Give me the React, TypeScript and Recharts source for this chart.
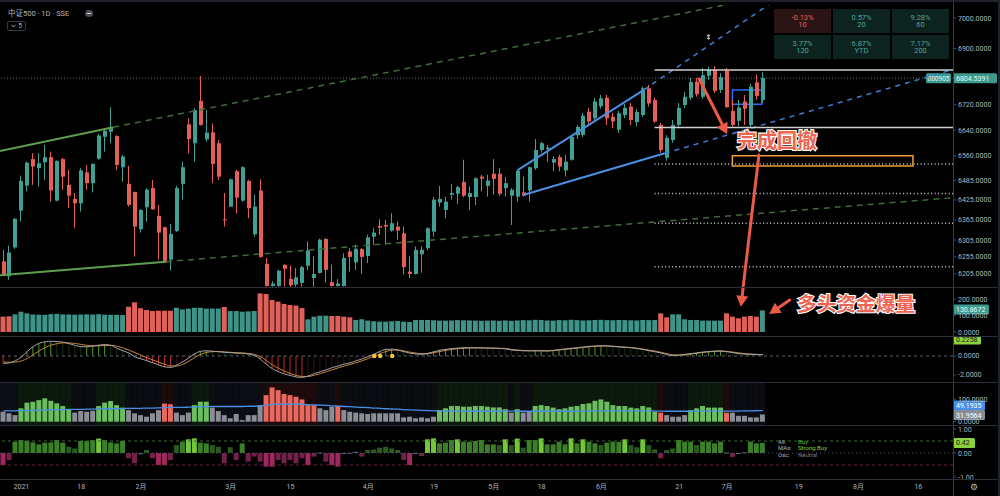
import React from 'react'
import {
  ComposedChart, Bar, Cell, Line, XAxis, YAxis, ReferenceLine, ReferenceArea, ReferenceDot,
} from 'recharts'

const FONT = 'Roboto, "Noto Sans CJK SC", sans-serif'
const CJK = '"Noto Sans CJK SC", "Noto Sans CJK TC", sans-serif'
const TXT = '#b2b5be'
const UP = '#41a093'
const DOWN = '#e35f58'
const GRID = '#2a2e39'

// 中证500 daily, 29 Dec 2020 .. 9 Jul 2021 : [open, high, low, close]
const CANDLES: number[][] = [
  [6242, 6276, 6198, 6203], [6198, 6288, 6188, 6268], [6283, 6371, 6279, 6368], [6393, 6499, 6360, 6483],
  [6469, 6542, 6451, 6539], [6550, 6568, 6471, 6527], [6522, 6568, 6466, 6537], [6540, 6594, 6486, 6556],
  [6556, 6573, 6420, 6454], [6423, 6546, 6421, 6544], [6550, 6554, 6456, 6496], [6471, 6517, 6401, 6438],
  [6428, 6446, 6340, 6415], [6415, 6522, 6390, 6515], [6509, 6532, 6456, 6476], [6476, 6537, 6448, 6535],
  [6551, 6628, 6548, 6623], [6619, 6646, 6573, 6638], [6635, 6712, 6599, 6646], [6621, 6624, 6517, 6532],
  [6525, 6563, 6481, 6558], [6474, 6529, 6405, 6410], [6449, 6451, 6256, 6345], [6337, 6397, 6327, 6395],
  [6403, 6461, 6360, 6456], [6461, 6486, 6395, 6397], [6377, 6410, 6247, 6327], [6343, 6345, 6237, 6239],
  [6247, 6353, 6215, 6323], [6332, 6468, 6329, 6461], [6474, 6542, 6426, 6525], [6658, 6677, 6568, 6612],
  [6599, 6709, 6542, 6703], [6732, 6811, 6654, 6656], [6611, 6703, 6604, 6632], [6633, 6661, 6476, 6535],
  [6599, 6609, 6486, 6496], [6367, 6446, 6345, 6364], [6405, 6490, 6404, 6488], [6513, 6517, 6385, 6432],
  [6423, 6528, 6420, 6525], [6483, 6486, 6370, 6400], [6322, 6441, 6315, 6405], [6454, 6488, 6253, 6255],
  [6235, 6252, 6168, 6170], [6170, 6184, 6168, 6177], [6170, 6218, 6168, 6214], [6232, 6233, 6168, 6220],
  [6191, 6229, 6168, 6172], [6174, 6222, 6168, 6195], [6179, 6229, 6168, 6225], [6229, 6301, 6217, 6274],
  [6193, 6257, 6168, 6205], [6208, 6309, 6207, 6306], [6308, 6311, 6180, 6217], [6181, 6232, 6168, 6170],
  [6170, 6190, 6168, 6177], [6170, 6266, 6168, 6252], [6271, 6281, 6212, 6255], [6239, 6291, 6217, 6279],
  [6278, 6281, 6205, 6255], [6258, 6321, 6237, 6313], [6315, 6340, 6291, 6327], [6347, 6367, 6320, 6342],
  [6350, 6365, 6291, 6345], [6333, 6385, 6330, 6355], [6345, 6360, 6306, 6333], [6325, 6345, 6203, 6225],
  [6212, 6257, 6193, 6205], [6205, 6286, 6203, 6276], [6263, 6286, 6209, 6276], [6281, 6343, 6274, 6340],
  [6330, 6434, 6315, 6426], [6417, 6468, 6405, 6428], [6395, 6435, 6370, 6420], [6441, 6474, 6426, 6446],
  [6444, 6468, 6413, 6464], [6480, 6548, 6434, 6438], [6434, 6466, 6395, 6446], [6434, 6494, 6410, 6491],
  [6496, 6502, 6451, 6490], [6468, 6502, 6435, 6484], [6505, 6550, 6441, 6489], [6505, 6522, 6438, 6444],
  [6461, 6494, 6435, 6476], [6438, 6461, 6350, 6456], [6435, 6517, 6420, 6514], [6448, 6496, 6435, 6438],
  [6454, 6527, 6420, 6525], [6522, 6612, 6517, 6578], [6578, 6604, 6570, 6599], [6581, 6594, 6542, 6585],
  [6539, 6558, 6512, 6550], [6556, 6563, 6512, 6527], [6515, 6563, 6496, 6542], [6548, 6624, 6545, 6619],
  [6624, 6656, 6612, 6650], [6625, 6694, 6618, 6685], [6698, 6710, 6656, 6667], [6677, 6742, 6665, 6730],
  [6715, 6751, 6707, 6740], [6742, 6751, 6656, 6677], [6682, 6694, 6646, 6667], [6641, 6700, 6631, 6693],
  [6687, 6722, 6678, 6710], [6714, 6725, 6656, 6672], [6665, 6706, 6652, 6697], [6687, 6777, 6681, 6772],
  [6772, 6783, 6714, 6724], [6735, 6742, 6662, 6667], [6656, 6662, 6569, 6578], [6554, 6624, 6545, 6616],
  [6609, 6672, 6600, 6656], [6656, 6725, 6646, 6710], [6719, 6760, 6710, 6745], [6742, 6805, 6735, 6792],
  [6793, 6805, 6745, 6753], [6745, 6837, 6738, 6814], [6812, 6841, 6799, 6831], [6831, 6843, 6757, 6764],
  [6767, 6820, 6757, 6808], [6828, 6837, 6710, 6712], [6700, 6735, 6650, 6656], [6669, 6735, 6652, 6711],
  [6730, 6751, 6656, 6707], [6656, 6786, 6646, 6777], [6791, 6817, 6735, 6748], [6735, 6824, 6725, 6804.5391],
]
const LAST_PRICE = 6804.5391

// money-flow volume pane
const VOLUME = [
  93, 95, 107, 123, 113, 106, 105, 104, 108, 110, 107, 106, 105, 106, 107, 106, 108, 105, 104, 104, 103,
  153, 180, 144, 133, 127, 129, 129, 129,
  147, 137, 142, 147, 147, 142, 142, 142,
  152,
  127, 127, 123, 125, 127,
  234, 230, 194, 184, 170, 164, 160, 145,
  77, 93, 99, 99,
  97, 97, 93, 89,
  73, 77, 69, 65, 63, 63, 65, 67, 63, 61, 73, 73, 73, 71, 69, 69, 70, 72, 71, 70, 69, 68, 69, 70, 68,
  70, 68, 70, 72, 71, 74, 73, 70, 69, 72, 71, 74, 72, 70, 71, 73, 74, 72, 71, 73, 72, 71, 70, 73, 72, 73,
  113, 89,
  107, 107, 77, 73, 73, 69, 69, 69, 69,
  113, 93, 83, 93, 97, 93,
  130.8672,
]
const VOL_RUNS: [string, number][] = [
  ['d', 2], ['u', 19], ['d', 8], ['u', 8], ['d', 1], ['u', 5], ['d', 8], ['u', 4], ['d', 4],
  ['u', 51], ['d', 2], ['u', 9], ['d', 6], ['u', 1],
]

// oscillator pane
const MACD = [
  -0.8, -0.72, -0.5, -0.1, 0.5, 1.0, 1.35, 1.5, 1.55, 1.52,
  1.45, 1.3, 1.12, 0.98, 0.98, 1.05, 1.15, 1.2, 1.12, 0.8,
  0.55, 0.3, -0.1, -0.3, -0.5, -0.72, -0.95, -1.15, -1.2, -0.95,
  -0.6, -0.2, 0.25, 0.5, 0.55, 0.5, 0.45, 0.38, 0.35, 0.3,
  0.28, 0.2, 0.05, -0.35, -0.9, -1.35, -1.65, -1.9, -2.05, -2.22,
  -2.25, -2.1, -1.85, -1.65, -1.45, -1.22, -1.05, -0.85, -0.72, -0.5,
  -0.3, -0.05, 0.2, 0.5, 0.7, 0.72, 0.62, 0.45, 0.3, 0.22,
  0.18, 0.28, 0.45, 0.6, 0.7, 0.78, 0.83, 0.87, 0.87, 0.86,
  0.85, 0.83, 0.82, 0.8, 0.75, 0.63, 0.58, 0.55, 0.54, 0.55,
  0.55, 0.53, 0.6, 0.68, 0.75, 0.82, 0.87, 0.95, 1.02, 1.06,
  1.08, 1.05, 1.0, 0.95, 0.9, 0.87, 0.78, 0.68, 0.55, 0.45,
  0.3, 0.15, 0.04, 0.1, 0.18, 0.25, 0.33, 0.42, 0.48, 0.52,
  0.53, 0.45, 0.35, 0.25, 0.2, 0.17, 0.15, 0.14,
]
const SIGNAL = [
  -0.62, -0.66, -0.64, -0.52, -0.25, 0.15, 0.55, 0.9, 1.15, 1.3,
  1.38, 1.38, 1.32, 1.22, 1.12, 1.07, 1.07, 1.1, 1.12, 1.02,
  0.85, 0.62, 0.35, 0.08, -0.18, -0.42, -0.65, -0.88, -1.05, -1.05,
  -0.88, -0.55, -0.15, 0.18, 0.38, 0.46, 0.47, 0.43, 0.39, 0.35,
  0.32, 0.27, 0.16, -0.08, -0.5, -0.95, -1.3, -1.6, -1.85, -2.05,
  -2.15, -2.15, -2.02, -1.85, -1.65, -1.45, -1.25, -1.05, -0.88, -0.7,
  -0.5, -0.27, -0.02, 0.25, 0.48, 0.62, 0.63, 0.54, 0.4, 0.3,
  0.24, 0.25, 0.35, 0.48, 0.6, 0.7, 0.77, 0.82, 0.85, 0.86,
  0.86, 0.85, 0.83, 0.81, 0.78, 0.7, 0.63, 0.58, 0.56, 0.55,
  0.55, 0.54, 0.57, 0.63, 0.7, 0.77, 0.83, 0.9, 0.97, 1.02,
  1.05, 1.06, 1.03, 0.98, 0.93, 0.89, 0.82, 0.73, 0.62, 0.51,
  0.38, 0.24, 0.12, 0.1, 0.14, 0.21, 0.29, 0.37, 0.44, 0.49,
  0.52, 0.49, 0.41, 0.32, 0.25, 0.2, 0.17, 0.16,
]
const MACD_DOTS = [62, 63, 65]

// volume-strength pane
const FLOW = [
  44, 37, 29,
  59, 84, 88, 95, 103, 92, 81, 69, 55,
  40, 47, 44, 48,
  69, 84, 91, 73, 62,
  51, 37, 29, 22, 37, 51,
  80, 77,
  40, 29, 40,
  73, 88, 88,
  62, 47, 29, 15, 34, 7, 29, 29, 73,
  117, 151, 139, 122, 117, 110, 98, 73, 73,
  59, 51, 66,
  69,
  51, 44, 40, 37, 34, 37, 37, 37, 37, 37, 19, 22, 15, 19, 15, 22,
  51, 59, 69, 69, 66, 66, 69, 69, 66, 63, 63, 55,
  40,
  55,
  40, 44,
  69, 73, 69, 62, 55, 59, 66, 69, 78, 81, 92, 98, 88, 73, 69, 69, 62, 59, 69, 63, 44,
  40,
  29, 22, 22, 29,
  51, 59, 69, 62, 62, 62,
  40,
  40, 26, 26, 19, 19, 31.9564,
]
const FLOW_RUNS: [string, number][] = [
  ['n', 3], ['g', 9], ['n', 4], ['g', 5], ['n', 6], ['r', 2], ['n', 3], ['g', 3], ['n', 9], ['r', 9],
  ['n', 3], ['r', 1], ['n', 16], ['g', 12], ['n', 1], ['g', 1], ['n', 2], ['g', 21], ['r', 1], ['n', 4],
  ['g', 6], ['r', 1], ['n', 6],
]
const FLOW_AVG = [
  48, 48, 48, 49, 49, 50, 51, 52, 52, 53,
  53, 54, 54, 54, 55, 55, 56, 57, 57, 58,
  58, 59, 59, 59, 60, 60, 61, 62, 63, 63,
  63, 64, 65, 66, 66, 67, 67, 67, 67, 67,
  67, 68, 68, 70, 73, 76, 77, 78, 78, 77,
  76, 75, 74, 73, 72, 70, 69, 67, 66, 64,
  63, 62, 60, 59, 57, 56, 55, 53, 52, 51,
  50, 49, 48, 48, 47, 47, 47, 46, 46, 46,
  46, 46, 46, 46, 47, 47, 46, 46, 46, 46,
  46, 46, 46, 46, 46, 46, 46, 47, 47, 47,
  48, 48, 48, 48, 48, 48, 48, 48, 48, 47,
  47, 46, 46, 46, 46, 46, 47, 47, 47, 47,
  47, 47, 47, 47, 48, 48, 48.5, 49.1935,
]

// technical rating pane
const RATING = [
  -0.5, -0.3,
  0.47, 0.54, 0.51, 0.44, 0.36, 0.43, 0.44, 0.54, 0.43, 0.26, 0.19, 0.5, 0.5, 0.54, 0.6, 0.54, 0.44, 0.4, 0.51,
  -0.22, -0.43, -0.05, 0.125, -0.22, -0.5, -0.5, -0.29,
  0.33, 0.47, 0.57, 0.61, 0.43, 0.4, 0.33, 0.26,
  -0.43, 0.24, -0.29, 0.4, -0.36, -0.15,
  -0.36, -0.57, -0.57, -0.29, -0.43, -0.29, -0.43, -0.22, -0.5, -0.15,
  0.02, -0.36, -0.5, -0.57, -0.03, 0.01, 0.05, -0.15, 0.125, 0.15, 0.22, 0.26, 0.19, 0.125, -0.29, -0.5, 0, -0.125,
  0.57, 0.61, 0.4, 0.43, 0.54, 0.57, 0.47, 0.47, 0.5,
  0.54, 0.36, 0.36, 0.33, 0.57, 0.33, 0.6, 0.22, 0.54, 0.54, 0.61, 0.36, 0.36, 0.47, 0.36,
  0.61, 0.4, 0.57, 0.47, 0.4, 0.33, 0.43, 0.47, 0.46, 0.57, 0.33, 0.24, 0.57, 0.33, 0.15,
  -0.22, 0.125, 0.19, 0.54, 0.47, 0.47, 0.33, 0.47, 0.47, 0.4, 0.47, 0.02, -0.17, 0, 0.03, 0.47, 0.4, 0.42,
]

const TIME_TICKS = [3, 13, 23, 38, 48, 61, 72, 82, 90, 100, 113, 121, 133, 143, 153]
const TIME_LABELS = ['2021', '18', '2月', '3月', '15', '4月', '19', '5月', '18', '6月', '21', '7月', '19', '8月', '16']
const PRICE_TICKS = [7000, 6900, 6720, 6640, 6560, 6485, 6425, 6365, 6305, 6255, 6205]

const STAT_VALUES = [-0.13, 0.57, 9.28, 3.77, 6.87, 7.17]
const STAT_PERIODS = ['10', '20', '60', '120', 'YTD', '200']

// drawings on the price pane, in [bar index, price]
const GREEN_SOLID = [[[-0.585, 6575], [18.36, 6649]], [[-0.585, 6201], [27.17, 6241]]]
const GREEN_DASHED = [[[18.36, 6649], [120.6, 7043]], [[27.17, 6241], [158.8, 6432]]]
const BLUE_SOLID = [[[85.99, 6516], [107.1, 6767]], [[86.92, 6440], [110.6, 6568]]]
const BLUE_DASHED = [[[107.1, 6767], [127.9, 7043]], [[110.6, 6568], [158.8, 6832]]]
const BOX_LEVELS = [6831, 6648]
const DOT_LEVELS = [6535, 6445, 6355, 6226]
const LEVEL_FROM = 108.9

const X_DOMAIN: [number, number] = [-0.585, 158.8]

const expandRuns = (runs: [string, number][]) => runs.flatMap(([k, n]) => Array.from({ length: n }, () => k))
const volSide = expandRuns(VOL_RUNS)
const flowCat = expandRuns(FLOW_RUNS)

const ROWS = CANDLES.map(([o, h, l, c], i) => ({
  i, o, h, l, c,
  range: [l, h],
  vol: VOLUME[i],
  vs: volSide[i],
  m: MACD[i],
  s: SIGNAL[i],
  grow: i === 0 || Math.abs(MACD[i]) >= Math.abs(MACD[i - 1]),
  f: FLOW[i],
  fc: flowCat[i],
  fa: FLOW_AVG[i],
  r: RATING[i],
}))

const histColor = (row: { m: number; grow: boolean }) =>
  row.m >= 0 ? (row.grow ? '#4c9a26' : '#1a3214') : (row.grow ? '#c22a2a' : '#3a1313')

const Candle = (p: any) => {
  const { x, y, width, height, payload } = p
  if (!payload || !isFinite(y)) return null
  const { o, h, l, c } = payload
  const color = c >= o ? UP : DOWN
  const top = Math.min(y, y + height)
  const hh = Math.abs(height)
  const lh = Math.log(h)
  const ll = Math.log(l)
  const py = (v: number) => (lh === ll ? top : top + (hh * (lh - Math.log(v))) / (lh - ll))
  const bx = Math.round(x)
  const bTop = py(Math.max(o, c))
  const bBot = py(Math.min(o, c))
  return (
    <g>
      <line x1={bx + 1.5} x2={bx + 1.5} y1={top} y2={top + hh} stroke={color} strokeWidth={1} />
      <rect x={bx} y={bTop} width={width} height={Math.max(1, bBot - bTop)} fill={color} />
    </g>
  )
}

const VolBar = (p: any) => {
  const { x, y, width, height, payload } = p
  return (
    <rect x={x} y={Math.min(y, y + height)} width={width} height={Math.abs(height)}
      fill={payload.vs === 'u' ? '#3e9488' : '#e0615a'} />
  )
}

const FLOW_COLORS: Record<string, string> = { g: '#6cbd60', n: '#8a8c96', r: '#e9685f' }
const FLOW_BG: Record<string, string> = { g: '#0c1a0d', n: '#0b0d13', r: '#1d0a0a' }
const FlowBar = (p: any) => {
  const { x, y, width, height, payload } = p
  const cx = x + width / 2
  return (
    <g>
      <rect x={cx - 3} y={0} width={6} height={42} fill={FLOW_BG[payload.fc]} />
      <rect x={x} y={Math.min(y, y + height)} width={width} height={Math.abs(height)} fill={FLOW_COLORS[payload.fc]} />
    </g>
  )
}

const ratingColor = (v: number) => {
  if (v >= 0.55) return '#73c83a'
  if (v >= 0.35) return '#3b7f28'
  if (v > 0.05) return '#2a5a1d'
  if (v >= -0.05) return '#62656e'
  if (v <= -0.45) return '#a0285f'
  return '#74204b'
}
const RatingBar = (p: any) => {
  const { x, y, width, height, payload } = p
  const hh = Math.max(1, Math.abs(height))
  return <rect x={x} y={Math.min(y, y + height)} width={width} height={hh} fill={ratingColor(payload.r)} />
}

const axisTick = (digits: number) => (p: any) => (
  <text x={p.x} y={p.y} dy={2.5} fontSize={7} fill={TXT} fontFamily={FONT}>
    {Number(p.payload?.value).toFixed(digits)}
  </text>
)

const TimeTick = (p: any) => {
  const k = TIME_TICKS.indexOf(p.payload?.value)
  return (
    <text x={p.x} y={p.y} dy={7.5} textAnchor="middle" fontSize={7} fill={TXT} fontFamily={FONT}>
      {TIME_LABELS[k] ?? ''}
    </text>
  )
}

type TagOpts = { text: string; bg: string; fg: string; w: number; dy?: number; left?: string }
const tagLabel = ({ text, bg, fg, w, dy = 0, left }: TagOpts) => (props: any) => {
  const vb = props?.viewBox ?? {}
  const xr = (vb.x ?? 0) + (vb.width ?? 0)
  const yc = (vb.y ?? 0) + dy
  return (
    <g>
      {left && (
        <g>
          <rect x={xr - 27} y={yc - 5} width={25} height={10} rx={1.5} fill={bg} />
          <text x={xr - 14.5} y={yc + 2.5} textAnchor="middle" fontSize={6.5} fill={fg} fontFamily={FONT}>{left}</text>
        </g>
      )}
      <rect x={xr} y={yc - 5} width={w} height={10} rx={1.5} fill={bg} />
      <text x={xr + 3} y={yc + 2.5} fontSize={7} fill={fg} fontFamily={FONT}>{text}</text>
    </g>
  )
}

const arrowShape = (head: boolean) => (p: any) => {
  const { x1, y1, x2, y2 } = p
  if (![x1, y1, x2, y2].every((v) => typeof v === 'number' && isFinite(v))) return <g />
  const col = '#ec5a48'
  const dx = x2 - x1
  const dy = y2 - y1
  const len = Math.hypot(dx, dy) || 1
  const ux = dx / len
  const uy = dy / len
  const L = 11
  const W = 6
  const bx = x2 - ux * L
  const by = y2 - uy * L
  return (
    <g>
      <line x1={x1} y1={y1} x2={head ? bx + ux * 2 : x2} y2={head ? by + uy * 2 : y2}
        stroke={col} strokeWidth={3} strokeLinecap="round" />
      {head && (
        <polygon
          points={`${x2},${y2} ${bx - uy * W},${by + ux * W} ${bx + uy * W},${by - ux * W}`}
          fill={col}
        />
      )}
    </g>
  )
}

const seg = (a: number[], b: number[]) => [{ x: a[0], y: a[1] }, { x: b[0], y: b[1] }]

const yAxisCommon = {
  orientation: 'right' as const,
  width: 47,
  allowDataOverflow: true,
  interval: 0 as const,
  tickLine: { stroke: '#4a4d57' },
  tickSize: 3,
  axisLine: false,
}

const hiddenX = <XAxis type="number" dataKey="i" domain={X_DOMAIN} allowDataOverflow hide />

function PricePane() {
  return (
    <ComposedChart width={1000} height={287} data={ROWS} margin={{ top: 5, right: 0, bottom: 0, left: 0 }}>
      {hiddenX}
      <YAxis {...yAxisCommon} scale="log" type="number" domain={[6167, 7043]} ticks={PRICE_TICKS} tick={axisTick(4)} />
      <Bar dataKey="range" barSize={4} shape={Candle} isAnimationActive={false} />
      <ReferenceLine y={LAST_PRICE} stroke="#6a6d78" strokeDasharray="1 2"
        label={tagLabel({ text: '6804.5391', bg: '#3d9a8e', fg: '#e9f6f3', w: 44, left: '000905' })} />
      {GREEN_SOLID.map(([a, b], k) => (
        <ReferenceLine key={`gs${k}`} segment={seg(a, b)} stroke="#5e9e4f" strokeWidth={2} ifOverflow="hidden" />
      ))}
      {GREEN_DASHED.map(([a, b], k) => (
        <ReferenceLine key={`gd${k}`} segment={seg(a, b)} stroke="#3e6d37" strokeWidth={1.5} strokeDasharray="6 5" ifOverflow="hidden" />
      ))}
      {BLUE_SOLID.map(([a, b], k) => (
        <ReferenceLine key={`bs${k}`} segment={seg(a, b)} stroke="#4a8fe2" strokeWidth={2} ifOverflow="hidden" />
      ))}
      {BLUE_DASHED.map(([a, b], k) => (
        <ReferenceLine key={`bd${k}`} segment={seg(a, b)} stroke="#3f7fd4" strokeWidth={1.5} strokeDasharray="5 5" ifOverflow="hidden" />
      ))}
      {BOX_LEVELS.map((v) => (
        <ReferenceLine key={`bl${v}`} segment={seg([LEVEL_FROM, v], [X_DOMAIN[1], v])} stroke="#cfcfcf" strokeWidth={1.5} ifOverflow="hidden" />
      ))}
      {DOT_LEVELS.map((v) => (
        <ReferenceLine key={`dl${v}`} segment={seg([LEVEL_FROM, v], [X_DOMAIN[1], v])} stroke="#cfcfcf" strokeWidth={1.5} strokeDasharray="1 2.5" ifOverflow="hidden" />
      ))}
      <ReferenceArea x1={121.9} x2={126.8} y1={6721} y2={6767} fill="none" stroke="#2f6bff" strokeWidth={1.5} ifOverflow="hidden" />
      <ReferenceArea x1={121.9} x2={152.1} y1={6529} y2={6560} fill="none" stroke="#f29d38" strokeWidth={1.5} ifOverflow="hidden" />
      <ReferenceLine segment={seg([116.35, 6801.7], [121.04, 6626.8])} ifOverflow="visible" shape={arrowShape(true)} />
      <ReferenceLine segment={seg([126.34, 6562.5], [123.7, 6167])} ifOverflow="visible" shape={arrowShape(false)} />
    </ComposedChart>
  )
}

function VolumePane() {
  return (
    <ComposedChart width={1000} height={48} data={ROWS} margin={{ top: 0, right: 0, bottom: 0, left: 0 }}>
      {hiddenX}
      <YAxis {...yAxisCommon} type="number" domain={[-24.2, 266.7]} ticks={[200, 100, 0]} tick={axisTick(4)} />
      <Bar dataKey="vol" barSize={5} shape={VolBar} isAnimationActive={false} />
      <ReferenceLine y={VOLUME[VOLUME.length - 1]} stroke="none"
        label={tagLabel({ text: '130.8672', bg: '#3d9a8e', fg: '#e9f6f3', w: 36, dy: -1 })} />
      <ReferenceLine segment={seg([123.7, 266.7], [123.33, 153])} ifOverflow="visible" shape={arrowShape(true)} />
      <ReferenceLine segment={seg([131.5, 193.9], [128.06, 109])} ifOverflow="visible" shape={arrowShape(true)} />
    </ComposedChart>
  )
}

function MacdPane() {
  return (
    <ComposedChart width={1000} height={45} data={ROWS} margin={{ top: 0, right: 0, bottom: 0, left: 0 }}>
      {hiddenX}
      <YAxis {...yAxisCommon} type="number" domain={[-2.737, 2]} ticks={[0, -2]} tick={axisTick(4)} />
      <ReferenceLine y={0} stroke="#5d606b" strokeDasharray="3 3" />
      <Bar dataKey="m" barSize={1} isAnimationActive={false}>
        {ROWS.map((row) => (
          <Cell key={row.i} fill={histColor(row)} stroke="none" />
        ))}
      </Bar>
      <Line type="monotone" dataKey="s" stroke="#c9862f" strokeWidth={1} dot={false} isAnimationActive={false} />
      <Line type="monotone" dataKey="m" stroke="#a3a6ae" strokeWidth={1} dot={false} isAnimationActive={false} />
      {MACD_DOTS.map((i) => (
        <ReferenceDot key={i} x={i} y={0} r={2.2} fill="#f3c33c" stroke="none" />
      ))}
      <ReferenceLine y={0.2258} stroke="none"
        label={tagLabel({ text: '0.2258', bg: '#8bd23f', fg: '#10200a', w: 28, dy: -14.4 })} />
    </ComposedChart>
  )
}

function FlowPane() {
  return (
    <ComposedChart width={1000} height={42} data={ROWS} margin={{ top: 0, right: 0, bottom: 0, left: 0 }}>
      {hiddenX}
      <YAxis {...yAxisCommon} type="number" domain={[-14.5, 170.5]} ticks={[100, 0]} tick={axisTick(4)} />
      <Bar dataKey="f" barSize={5} shape={FlowBar} isAnimationActive={false} />
      <Line type="monotone" dataKey="fa" stroke="#4a8fe6" strokeWidth={1.3} dot={false} isAnimationActive={false} />
      <ReferenceLine y={FLOW_AVG[FLOW_AVG.length - 1]} stroke="none"
        label={tagLabel({ text: '49.1935', bg: '#4a8fe6', fg: '#ffffff', w: 32, dy: -5 })} />
      <ReferenceLine y={FLOW[FLOW.length - 1]} stroke="none"
        label={tagLabel({ text: '31.9564', bg: '#8a8c96', fg: '#ffffff', w: 32, dy: 0.6 })} />
    </ComposedChart>
  )
}

function RatingPane() {
  return (
    <ComposedChart width={1000} height={70} data={ROWS} margin={{ top: 0, right: 0, bottom: 0, left: 0 }}>
      <XAxis type="number" dataKey="i" domain={X_DOMAIN} allowDataOverflow ticks={TIME_TICKS} interval={0}
        tick={TimeTick} tickLine={false} tickSize={0} tickMargin={2} axisLine={false} height={17} />
      <YAxis {...yAxisCommon} type="number" domain={[-1.083, 1.125]} ticks={[1, 0, -1]} tick={axisTick(2)} />
      <ReferenceLine y={0.5} stroke="#3a6b2c" strokeDasharray="3 3" />
      <ReferenceLine y={0} stroke="#50535c" strokeDasharray="1 3" />
      <ReferenceLine y={-0.5} stroke="#6b2142" strokeDasharray="3 3" />
      <Bar dataKey="r" barSize={5} shape={RatingBar} isAnimationActive={false} />
      <ReferenceLine y={RATING[RATING.length - 1]} stroke="none"
        label={tagLabel({ text: '0.42', bg: '#8bd23f', fg: '#10200a', w: 22 })} />
    </ComposedChart>
  )
}

const abs = (left: number, top: number, extra: React.CSSProperties = {}): React.CSSProperties => ({
  position: 'absolute', left, top, ...extra,
})

export default function App() {
  return (
    <div style={{ position: 'relative', width: 1000, height: 496, background: '#000', overflow: 'hidden', fontFamily: FONT }}>
      <style>{'html,body{margin:0;padding:0;background:#000}'}</style>

      <div style={abs(0, 0)}><PricePane /></div>
      <div style={abs(0, 288)}><VolumePane /></div>
      <div style={abs(0, 337)}><MacdPane /></div>
      <div style={abs(0, 383)}><FlowPane /></div>
      <div style={abs(0, 426)}><RatingPane /></div>

      {/* pane separators and price-scale border */}
      {[287, 336, 382, 425, 479].map((y) => (
        <div key={y} style={abs(0, y, { width: 1000, height: 1, background: GRID })} />
      ))}
      <div style={abs(953, 0, { width: 1, height: 496, background: '#363a45' })} />
      <div style={abs(0, 0, { width: 1000, height: 2, background: '#1f222a' })} />
      <div style={abs(998, 0, { width: 2, height: 496, background: '#1f222a' })} />

      {/* header */}
      <div style={abs(8, 9, { fontSize: 7.5, lineHeight: '9px', color: TXT, whiteSpace: 'nowrap' })}>中证500 · 1D · SSE</div>
      <div style={abs(85, 10, { width: 8, height: 6.5, borderRadius: 4, background: '#4a4d57' })}>
        <div style={abs(2, 2.8, { width: 4, height: 1, background: '#e0e0e0' })} />
      </div>
      <div style={abs(7, 21, { width: 17, height: 8, border: '1px solid #363a45', borderRadius: 2, fontSize: 6.5, lineHeight: '8px', color: TXT, display: 'flex', alignItems: 'center', justifyContent: 'center', gap: 2 })}>
        <svg width={5} height={4}><polyline points="0.5,0.8 2.5,3 4.5,0.8" fill="none" stroke={TXT} strokeWidth={0.9} /></svg>
        <span>5</span>
      </div>

      {/* performance table */}
      <div style={abs(774, 9, { display: 'grid', gridTemplateColumns: '57px 57px 57px', gridAutoRows: '24px', columnGap: 2, rowGap: 2 })}>
        {STAT_VALUES.map((v, k) => (
          <div key={k} style={{
            background: v < 0 ? '#2b1415' : '#0d2320', color: v < 0 ? '#e2625b' : '#4fa295',
            fontSize: 7.5, lineHeight: '7.5px', display: 'flex', flexDirection: 'column', alignItems: 'center', justifyContent: 'center',
          }}>
            <span>{v.toFixed(2)}%</span>
            <span>{STAT_PERIODS[k]}</span>
          </div>
        ))}
      </div>

      {/* rating legend */}
      <div style={abs(778, 439, { fontSize: 6, lineHeight: '6.4px', color: TXT, whiteSpace: 'nowrap' })}>
        <div>All:</div><div>MAs:</div><div>Osc:</div>
      </div>
      <div style={abs(798, 439, { fontSize: 6, lineHeight: '6.4px', whiteSpace: 'nowrap' })}>
        <div style={{ color: '#5fb53a' }}>Buy</div>
        <div style={{ color: '#86d140' }}>Strong Buy</div>
        <div style={{ color: '#777a83' }}>Neutral</div>
      </div>

      <div style={abs(970, 481, { fontSize: 9, color: TXT, lineHeight: '12px' })}>⚙</div>

      {/* text annotations */}
      <svg width={1000} height={496} style={abs(0, 0, { pointerEvents: 'none' })}>
        <text x={705} y={40} fontSize={8} fill="#d8d8d8" fontFamily="DejaVu Sans">⇞</text>
        <text x={737} y={148} fontSize={20} fontWeight={700} fill="#ee6452" stroke="#ffffff" strokeWidth={2.2}
          paintOrder="stroke" fontFamily={CJK}>完成回撤</text>
        <text x={797} y={311} fontSize={19.7} fontWeight={700} fill="#ee6452" stroke="#ffffff" strokeWidth={2.2}
          paintOrder="stroke" fontFamily={CJK}>多头资金爆量</text>
      </svg>
    </div>
  )
}
